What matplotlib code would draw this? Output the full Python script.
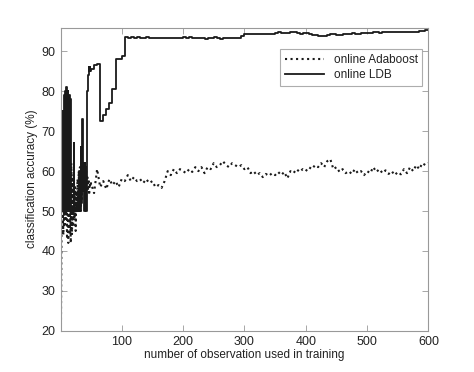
import matplotlib.pyplot as plt

plt.rcParams["font.family"] = ["Liberation Sans", "DejaVu Sans"]

# observation index: every observation up to 49, then every 5th
obs = list(range(1, 50)) + list(range(50, 601, 5))

ldb = [
    50, 50, 50, 75, 50, 79, 50, 80, 50, 81,
    50, 80, 50, 79, 50, 78, 50, 51, 50, 51,
    50, 67, 50, 51, 50, 50, 52, 50, 55, 50,
    60, 50, 66, 52, 62, 73, 55, 62, 50, 62,
    61, 50, 62, 80, 84, 86, 85, 86, 85,
    # 50 .. 600 step 5
    85.5, 86.5, 86.8, 72.5, 74, 75.5, 77, 80.5, 88, 88.2,
    88.8, 93.6, 93.4, 93.6, 93.5, 93.7, 93.5, 93.4, 93.6, 93.5,
    93.4, 93.4, 93.3, 93.3, 93.3, 93.3, 93.3, 93.3, 93.3, 93.3,
    93.6, 93.5, 93.6, 93.4, 93.5, 93.3, 93.5, 93.2, 93.4, 93.3,
    93.6, 93.5, 93.2, 93.3, 93.4, 93.3, 93.3, 93.4, 93.5, 94.0,
    94.3, 94.3, 94.3, 94.4, 94.4, 94.4, 94.3, 94.4, 94.5, 94.5,
    94.6, 94.8, 94.6, 94.7, 94.6, 94.8, 94.9, 94.6, 94.5, 94.7,
    94.7, 94.4, 94.2, 94.2, 94.0, 94.0, 94.0, 94.1, 94.3, 94.4,
    94.2, 94.2, 94.3, 94.3, 94.4, 94.6, 94.5, 94.5, 94.6, 94.6,
    94.7, 94.7, 94.8, 94.8, 94.7, 94.8, 94.9, 94.9, 94.9, 94.8,
    94.9, 94.9, 95.0, 94.9, 94.9, 94.9, 95.0, 95.1, 95.2, 95.3,
    95.3,
]

adaboost = [
    20, 45, 44, 50, 44, 50, 46, 50, 48, 55,
    43, 58, 42, 60, 44, 56, 42, 62, 44, 58,
    46, 60, 48, 56, 45, 55, 50, 58, 50, 60,
    52, 61, 50, 62, 53, 61, 55, 59, 56, 61,
    55, 60, 57, 59, 55, 58, 54, 57, 56,
    # 50 .. 600 step 5
    57, 54.5, 60.5, 56, 57.5, 55.5, 58, 56.5, 57.5, 56,
    58, 57.5, 59, 57.5, 58.5, 57.5, 58, 57, 58, 57,
    57.5, 56, 56.5, 55.8, 57.5, 60, 59, 60.5, 59.5, 60.5,
    60, 59.5, 60.5, 59.8, 61, 60, 61, 59.5, 61, 60.5,
    62, 61, 61.5, 62.5, 61.5, 61, 62, 61.5, 61, 61.5,
    60.5, 61, 59.5, 60, 59, 59.5, 58.5, 59.3, 58.8, 59.5,
    59, 59.8, 59, 59.8, 58.2, 60, 59.5, 60.5, 59.8, 60.5,
    60, 61, 60.5, 61.5, 61, 62, 61, 62.5, 63, 60.5,
    61, 59.8, 60.5, 59.5, 60, 59.3, 60.5, 59.5, 60, 59,
    60, 59.5, 61, 59.8, 60.5, 59.5, 60.2, 59.3, 60, 59,
    59.8, 59.2, 60.5, 59.5, 61, 60, 61.5, 60.5, 62, 61.5,
    62,
]

fig = plt.figure(figsize=(4.74, 3.72), dpi=100)
ax = fig.add_axes([0.128, 0.111, 0.776, 0.815])

ax.plot(obs, adaboost, ":", color="#1a1a1a", lw=1.5, label="online Adaboost")
ax.plot(obs, ldb, "-", color="#1a1a1a", lw=1.3, drawstyle="steps-post",
        label="online LDB")

ax.set_xlim(0.6, 600)
ax.set_ylim(20, 96)
ax.set_xticks([100, 200, 300, 400, 500, 600])
ax.set_yticks([20, 30, 40, 50, 60, 70, 80, 90])

for s in ax.spines.values():
    s.set_color("#999999")
    s.set_linewidth(0.8)
ax.tick_params(direction="in", length=4, width=0.6, color="#999999",
               top=True, right=True, labelsize=9, labelcolor="#222222")

ax.set_xlabel("number of observation used in training", fontsize=8.5,
              color="#222222", labelpad=1)
ax.set_ylabel("classification accuracy (%)", fontsize=8.5, color="#222222",
              labelpad=3)

leg = ax.legend(loc="upper right", bbox_to_anchor=(0.983, 0.929),
                fontsize=8.5, handlelength=3.3, fancybox=False,
                borderaxespad=0, labelspacing=0.3)
leg.get_frame().set_edgecolor("#999999")
leg.get_frame().set_linewidth(0.8)
for t in leg.get_texts():
    t.set_color("#222222")

fig.savefig("out.png", dpi=100)
